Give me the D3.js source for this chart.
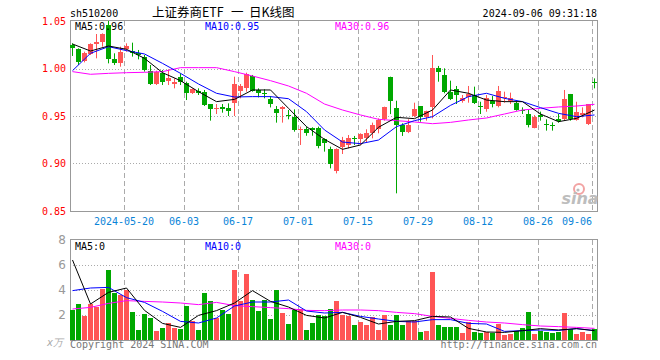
<!DOCTYPE html>
<html>
<head>
<meta charset="utf-8">
<script src="https://cdn.jsdelivr.net/npm/d3@7"></script>
<style>
	body { margin: 0; background: #fff; }
	svg { display: block; }
</style>
</head>
<body>
<svg id="chart" width="660" height="360"></svg>
<script>
// -------------- DAILY K-LINE: 上证券商ETF (sh510200) --------------

// candles: [open, high, low, close], one per trading day from 2024-05-07
const candles = [
	[1.0247, 1.0265, 1.0132, 1.0212], [1.0205, 1.0212, 1.0037, 1.0065], [1.0072, 1.0177, 1.0065, 1.0160],
	[1.0153, 1.0265, 1.0142, 1.0258], [1.0258, 1.0363, 1.0107, 1.0275], [1.0282, 1.0370, 1.0230, 1.0363],
	[1.0458, 1.0500, 1.0054, 1.0096], [1.0096, 1.0160, 1.0037, 1.0054], [1.0061, 1.0230, 1.0019, 1.0177],
	[1.0202, 1.0265, 1.0177, 1.0237], [1.0188, 1.0272, 1.0125, 1.0170], [1.0167, 1.0195, 1.0096, 1.0142],
	[1.0125, 1.0142, 0.9967, 0.9984], [0.9977, 1.0037, 0.9826, 0.9837], [0.9837, 0.9977, 0.9826, 0.9967],
	[0.9956, 0.9984, 0.9826, 0.9861], [0.9861, 0.9991, 0.9826, 0.9896], [0.9844, 0.9896, 0.9791, 0.9861],
	[0.9907, 0.9949, 0.9826, 0.9851], [0.9844, 0.9861, 0.9668, 0.9739], [0.9739, 0.9791, 0.9732, 0.9781],
	[0.9767, 0.9791, 0.9721, 0.9746], [0.9756, 0.9774, 0.9605, 0.9616], [0.9626, 0.9626, 0.9451, 0.9574],
	[0.9577, 0.9626, 0.9521, 0.9588], [0.9591, 0.9626, 0.9535, 0.9574], [0.9588, 0.9633, 0.9500, 0.9556],
	[0.9640, 0.9914, 0.9500, 0.9837], [0.9767, 0.9837, 0.9686, 0.9816], [0.9791, 0.9956, 0.9756, 0.9939],
	[0.9925, 0.9932, 0.9756, 0.9767], [0.9774, 0.9791, 0.9696, 0.9746], [0.9746, 0.9781, 0.9686, 0.9732],
	[0.9675, 0.9710, 0.9590, 0.9626], [0.9577, 0.9605, 0.9430, 0.9535], [0.9570, 0.9605, 0.9430, 0.9591],
	[0.9507, 0.9563, 0.9465, 0.9493], [0.9486, 0.9570, 0.9335, 0.9346], [0.9346, 0.9388, 0.9195, 0.9360],
	[0.9360, 0.9388, 0.9292, 0.9318], [0.9370, 0.9381, 0.9292, 0.9346], [0.9370, 0.9388, 0.9160, 0.9184],
	[0.9254, 0.9265, 0.9125, 0.9212], [0.9153, 0.9177, 0.8949, 0.8995], [0.8914, 0.9160, 0.8896, 0.9149],
	[0.9180, 0.9280, 0.9100, 0.9250], [0.9190, 0.9300, 0.9160, 0.9265], [0.9265, 0.9290, 0.9195, 0.9250],
	[0.9254, 0.9318, 0.9195, 0.9310], [0.9275, 0.9360, 0.9226, 0.9325], [0.9318, 0.9430, 0.9265, 0.9405],
	[0.9360, 0.9475, 0.9318, 0.9458], [0.9465, 0.9598, 0.9451, 0.9591], [0.9914, 0.9914, 0.9520, 0.9661],
	[0.9581, 0.9661, 0.8686, 0.9405], [0.9405, 0.9423, 0.9290, 0.9335], [0.9335, 0.9465, 0.9320, 0.9405],
	[0.9500, 0.9640, 0.9486, 0.9570], [0.9605, 0.9605, 0.9440, 0.9486], [0.9486, 0.9556, 0.9451, 0.9553],
	[0.9591, 1.0142, 0.9475, 1.0002], [1.0002, 1.0027, 0.9861, 0.9956], [0.9932, 1.0002, 0.9739, 0.9756],
	[0.9756, 0.9872, 0.9668, 0.9686], [0.9781, 0.9816, 0.9626, 0.9721], [0.9651, 0.9721, 0.9640, 0.9686],
	[0.9704, 0.9816, 0.9640, 0.9732], [0.9721, 0.9809, 0.9626, 0.9640], [0.9605, 0.9650, 0.9521, 0.9591],
	[0.9570, 0.9721, 0.9545, 0.9686], [0.9661, 0.9710, 0.9591, 0.9626], [0.9605, 0.9816, 0.9591, 0.9763],
	[0.9682, 0.9756, 0.9640, 0.9696], [0.9651, 0.9746, 0.9626, 0.9686], [0.9640, 0.9651, 0.9556, 0.9563],
	[0.9563, 0.9591, 0.9521, 0.9549], [0.9521, 0.9563, 0.9380, 0.9405], [0.9380, 0.9510, 0.9370, 0.9493],
	[0.9507, 0.9546, 0.9451, 0.9486], [0.9416, 0.9465, 0.9346, 0.9405], [0.9402, 0.9433, 0.9346, 0.9388],
	[0.9465, 0.9521, 0.9430, 0.9440], [0.9465, 0.9774, 0.9451, 0.9679], [0.9732, 0.9732, 0.9451, 0.9465],
	[0.9465, 0.9650, 0.9451, 0.9546], [0.9510, 0.9591, 0.9486, 0.9530], [0.9416, 0.9626, 0.9405, 0.9626],
	[0.9861, 0.9896, 0.9791, 0.9854]
];

// volume, x万
const volumes = [
	2.43, 2.91, 1.89, 2.91, 2.61, 4.11, 5.63, 3.76, 3.63, 3.97,
	2.21, 0.83, 2.11, 1.79, 0.75, 0.99, 1.36, 0.93, 0.91, 2.69,
	1.55, 0.83, 3.79, 3.15, 1.76, 2.43, 2.08, 5.57, 3.10, 5.31,
	3.23, 2.29, 3.23, 1.71, 4.03, 2.19, 1.31, 2.43, 2.51, 0.83,
	1.39, 2.03, 1.89, 2.51, 3.09, 2.03, 1.89, 1.17, 1.41, 1.17,
	1.81, 0.83, 2.03, 1.17, 1.97, 1.17, 1.49, 1.55, 0.61, 0.69,
	5.41, 1.23, 1.01, 1.01, 1.01, 0.53, 1.41, 0.61, 0.53, 0.61,
	0.53, 1.25, 0.37, 0.45, 0.75, 0.99, 2.21, 0.45, 0.69, 0.61,
	0.53, 0.61, 2.13, 0.88, 0.45, 0.61, 0.45, 0.88
];

// moving averages, read every 3rd trading day
const maDays = [0, 3, 6, 9, 12, 15, 18, 21, 24, 27, 30, 33, 36, 39, 42, 45, 48, 51, 54, 57, 60, 63, 66, 69, 72, 75, 78, 81, 84, 87];
const ma5 = [1.0258, 1.0184, 1.0237, 1.0202, 1.0107, 0.9956, 0.9872, 0.9756, 0.9651, 0.9675,
	0.9774, 0.9774, 0.9581, 0.9388, 0.9254, 0.9149, 0.9195, 0.9381, 0.9486, 0.9472,
	0.9563, 0.9774, 0.9739, 0.9668, 0.9651, 0.9651, 0.9521, 0.9440, 0.9475, 0.9563];
const ma10 = [0.9977, 1.0160, 1.0230, 1.0188, 1.0153, 1.0054, 0.9949, 0.9837, 0.9739, 0.9700,
	0.9704, 0.9704, 0.9682, 0.9546, 0.9353, 0.9226, 0.9209, 0.9247, 0.9388, 0.9451,
	0.9493, 0.9612, 0.9704, 0.9739, 0.9686, 0.9651, 0.9588, 0.9528, 0.9493, 0.9511];
const ma30 = [0.9967, 0.9939, 0.9949, 0.9956, 0.9960, 0.9967, 1.0009, 1.0009, 1.0009, 0.9967,
	0.9921, 0.9872, 0.9816, 0.9739, 0.9626, 0.9563, 0.9511, 0.9465, 0.9451, 0.9437,
	0.9419, 0.9433, 0.9458, 0.9479, 0.9521, 0.9563, 0.9581, 0.9595, 0.9605, 0.9623];
const volMa5 = [6.40, 2.88, 3.81, 4.16, 2.37, 1.33, 1.01, 1.97, 2.35, 2.96,
	3.95, 3.09, 2.64, 1.97, 1.76, 2.21, 1.81, 1.28, 1.49, 1.55,
	1.89, 1.84, 0.93, 0.64, 0.61, 0.75, 0.91, 0.80, 0.91, 0.75];
const volMa10 = [3.95, 4.16, 4.21, 3.39, 3.01, 2.29, 1.49, 1.36, 1.76, 2.72,
	3.04, 3.04, 3.20, 2.32, 2.16, 2.21, 1.89, 1.68, 1.49, 1.44,
	1.63, 1.63, 1.33, 1.28, 0.69, 0.75, 0.80, 0.77, 0.91, 0.75];
const volMa30 = [2.48, 2.61, 2.93, 3.15, 3.09, 3.04, 2.96, 2.83, 3.01, 2.75,
	2.67, 2.59, 2.51, 2.37, 2.35, 2.40, 2.40, 2.35, 2.21, 2.11,
	1.89, 1.73, 1.57, 1.44, 1.36, 1.23, 1.12, 1.07, 1.01, 0.93];

const tickDays = [9, 19, 28, 38, 48, 58, 68, 78, 87];
const tickLabels = ["2024-05-20", "06-03", "06-17", "07-01", "07-15", "07-29", "08-12", "08-26", "09-06"];
const priceTicks = [1.05, 1.00, 0.95, 0.90, 0.85];
const volTicks = [8, 6, 4, 2];

const svg = d3.select("#chart");
const mono = "'DejaVu Sans Mono', monospace";
const upColor = "#ff5555";
const downColor = "#00a800";
const gridColor = "#aaaaaa";
const frameColor = "#999999";

let xScale = d3.scaleBand()
	.domain(d3.range(candles.length))
	.range([70, 598]);
let bodyW = xScale.bandwidth() - 1;

let yScale = d3.scaleLinear().domain([0.85, 1.05]).range([211, 21]);
let vScale = d3.scaleLinear().domain([0, 8]).range([340, 240]);

function drawPanel(y, hTicks, top, bottom) {
	let g = svg.append("g");
	g.selectAll("line.h")
		.data(hTicks)
		.join("line")
		.attr("x1", 70).attr("x2", 597)
		.attr("y1", (d) => Math.round(y(d)) + 0.5)
		.attr("y2", (d) => Math.round(y(d)) + 0.5)
		.attr("stroke", gridColor)
		.attr("stroke-dasharray", "1,2");
	g.selectAll("line.v")
		.data(tickDays)
		.join("line")
		.attr("x1", (d) => xScale(d) + 0.5)
		.attr("x2", (d) => xScale(d) + 0.5)
		.attr("y1", top).attr("y2", bottom)
		.attr("stroke", gridColor)
		.attr("stroke-dasharray", "5,3");
	g.append("rect")
		.attr("x", 70.5).attr("y", top - 0.5)
		.attr("width", 527).attr("height", bottom - top + 1)
		.attr("fill", "none")
		.attr("stroke", frameColor);
	return g;
}

// -------------- PRICE PANEL --------------
drawPanel(yScale, [1.00, 0.95, 0.90], 21, 211);

// sina watermark
svg.append("circle").attr("cx", 579).attr("cy", 189).attr("r", 5)
	.attr("fill", "none").attr("stroke", "#f2a3a3").attr("stroke-width", 2);
svg.append("circle").attr("cx", 578).attr("cy", 190).attr("r", 1.6).attr("fill", "#bbb");
svg.append("text").attr("x", 580).attr("y", 204)
	.attr("text-anchor", "middle")
	.style("font", "italic bold 16px 'DejaVu Sans', sans-serif")
	.attr("fill", "#bdbdbd")
	.text("sina");

let candleG = svg.append("g")
	.selectAll("g")
	.data(candles)
	.join("g")
	.attr("fill", (d) => (d[3] >= d[0] ? upColor : downColor))
	.attr("stroke", (d) => (d[3] >= d[0] ? upColor : downColor));

candleG.append("line")
	.attr("x1", (d, i) => xScale(i) + 2.5)
	.attr("x2", (d, i) => xScale(i) + 2.5)
	.attr("y1", (d) => Math.max(yScale(d[1]), 21))
	.attr("y2", (d) => yScale(d[2]))
	.attr("stroke-width", 1);

candleG.append("rect")
	.attr("x", (d, i) => xScale(i))
	.attr("y", (d) => Math.round(yScale(Math.max(d[0], d[3]))))
	.attr("width", bodyW)
	.attr("height", (d) => Math.max(1, Math.round(Math.abs(yScale(d[0]) - yScale(d[3])))))
	.attr("stroke", "none");

let priceLine = d3.line()
	.x((d, k) => xScale(maDays[k]) + 2.5)
	.y((d) => yScale(d));

[[ma30, "#ff00ff"], [ma10, "#0000ff"], [ma5, "#000000"]].forEach(([s, c]) => {
	svg.append("path")
		.attr("d", priceLine(s))
		.attr("fill", "none")
		.attr("stroke", c)
		.attr("stroke-width", 1);
});

svg.append("g")
	.selectAll("text")
	.data(priceTicks)
	.join("text")
	.attr("x", 66)
	.attr("y", (d) => yScale(d) + 3.5)
	.attr("text-anchor", "end")
	.attr("fill", "#ff0000")
	.style("font", `10px ${mono}`)
	.text((d) => d.toFixed(2));

svg.append("g")
	.selectAll("text")
	.data(tickDays)
	.join("text")
	.attr("x", (d) => xScale(d))
	.attr("y", 225)
	.attr("text-anchor", (d, i) => (i === tickDays.length - 1 ? "end" : "middle"))
	.attr("fill", "#0a84d8")
	.style("font", `10px ${mono}`)
	.text((d, i) => tickLabels[i]);

// header
svg.append("text").attr("x", 70).attr("y", 16.5)
	.style("font", `10px ${mono}`).attr("fill", "#000").text("sh510200");
[[152, "上证券商ETF"], [231, "一"], [249, "日K线图"]].forEach(([x, t]) => {
	svg.append("text").attr("x", x).attr("y", 17)
		.style("font", "12.5px 'Noto Sans CJK SC', sans-serif").attr("fill", "#000")
		.text(t);
});
svg.append("text").attr("x", 597).attr("y", 16.5).attr("text-anchor", "end")
	.style("font", `10px ${mono}`).attr("fill", "#000").text("2024-09-06 09:31:18");

function legend(y, items) {
	items.forEach(([x, txt, c]) => {
		svg.append("text").attr("x", x).attr("y", y)
			.style("font", `10px ${mono}`).attr("fill", c).text(txt);
	});
}
legend(29.5, [[75, "MA5:0.96", "#000"], [205, "MA10:0.95", "#0000ff"], [335, "MA30:0.96", "#ff00ff"]]);

// -------------- VOLUME PANEL --------------
drawPanel(vScale, [6, 4, 2], 240, 340);

svg.append("g")
	.selectAll("rect")
	.data(volumes)
	.join("rect")
	.attr("x", (d, i) => xScale(i))
	.attr("y", (d) => Math.round(vScale(d)))
	.attr("width", bodyW)
	.attr("height", (d) => 340 - Math.round(vScale(d)))
	.attr("fill", (d, i) => (candles[i][3] >= candles[i][0] ? upColor : downColor));

let volLine = d3.line()
	.x((d, k) => xScale(maDays[k]) + 2.5)
	.y((d) => vScale(d));

[[volMa30, "#ff00ff"], [volMa10, "#0000ff"], [volMa5, "#000000"]].forEach(([s, c]) => {
	svg.append("path")
		.attr("d", volLine(s))
		.attr("fill", "none")
		.attr("stroke", c)
		.attr("stroke-width", 1);
});

svg.append("g")
	.selectAll("text")
	.data(volTicks)
	.join("text")
	.attr("x", 66)
	.attr("y", (d) => vScale(d) + 4)
	.attr("text-anchor", "end")
	.attr("fill", "#999")
	.style("font", "12px 'DejaVu Sans', sans-serif")
	.text((d) => d);
svg.append("text").attr("x", 63).attr("y", 346).attr("text-anchor", "end")
	.attr("fill", "#aaa").style("font", "italic 10px 'DejaVu Sans', sans-serif").text("x万");

legend(250, [[75, "MA5:0", "#000"], [205, "MA10:0", "#0000ff"], [335, "MA30:0", "#ff00ff"]]);

svg.append("text").attr("x", 70).attr("y", 348)
	.style("font", `10px ${mono}`).attr("fill", "#777").text("Copyright 2024 SINA.COM");
svg.append("text").attr("x", 597).attr("y", 348).attr("text-anchor", "end")
	.style("font", `10px ${mono}`).attr("fill", "#777").text("http://finance.sina.com.cn");
</script>
</body>
</html>
